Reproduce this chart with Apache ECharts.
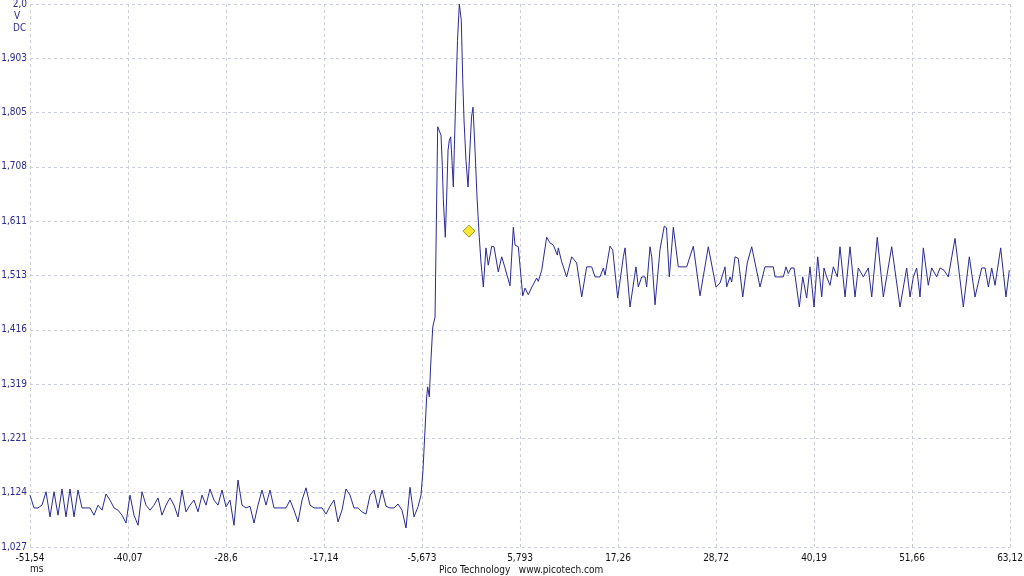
<!DOCTYPE html>
<html>
<head>
<meta charset="utf-8">
<script src="https://cdn.jsdelivr.net/npm/echarts@6/dist/echarts.min.js"></script>
<style>
html,body{margin:0;padding:0;background:#fff;}
#chart{width:1024px;height:576px;}
</style>
</head>
<body>
<div id="chart"></div>
<script>
// Axis ticks (ms and V) as printed on the reference
const X_MIN = -51.54, X_MAX = 63.12, X_STEP = 11.466;
const Y_MIN = 1.027, Y_MAX = 2.0, Y_STEP = 0.0973;
const xTickLabels = ['-51,54','-40,07','-28,6','-17,14','-5,673','5,793','17,26','28,72','40,19','51,66','63,12'];
const yTickLabels = ['1,027','1,124','1,221','1,319','1,416','1,513','1,611','1,708','1,805','1,903','2,0'];

// Pre-trigger baseline: uniformly sampled from LEFT_START every SAMPLE_MS
const LEFT_START = -51.54;
const SAMPLE_MS = 0.468;
const leftVolts = [
1.120,1.097,1.097,1.102,1.126,1.081,1.126,1.084,1.131,1.081,
1.131,1.081,1.129,1.097,1.097,1.097,1.084,1.102,1.093,1.122,
1.111,1.097,1.093,1.084,1.070,1.120,1.084,1.066,1.126,1.102,
1.093,1.102,1.115,1.084,1.102,1.115,1.102,1.081,1.129,1.090,
1.102,1.111,1.090,1.120,1.102,1.131,1.111,1.102,1.129,1.099,
1.111,1.066,1.147,1.102,1.097,1.100,1.070,1.102,1.129,1.102,
1.129,1.097,1.097,1.097,1.097,1.111,1.093,1.072,1.111,1.133,
1.102,1.097,1.097,1.097,1.086,1.100,1.111,1.072,1.093,1.131,
1.120,1.097,1.097,1.090,1.086,1.120,1.129,1.097,1.129,1.100,
1.097,1.097,1.104,1.093,1.061,1.134,1.081,1.099
];

// Rising edge, spike and settled level: explicit (ms, V) vertices
const edgeTimes = [
-5.79,-5.56,-5.13,-5.01,-4.82,-4.66,-4.42,-4.15,-3.84,-3.61,
-3.45,-3.30,-3.18,-2.95,-2.79,-2.63,-2.48,-2.32,-2.17,-2.01,
-1.90,-1.70,-1.52,-1.31,-1.15,-1.08,-0.91,-0.76,-0.53,-0.29,
-0.06,0.12,0.29,0.53,0.76,0.99,1.23,1.50,1.81,2.08,
2.48,2.75,3.25,3.65,4.04,4.62,5.01,5.21,5.59,6.11,
6.38,6.76,7.19,7.74,7.93,8.33,8.91,9.30,9.69,10.16,
10.27,10.67,11.25,11.84,12.42,13.01,13.59,14.18,14.57,15.15,
15.54,15.74,16.32,16.64,17.22,17.88,18.08,18.66,19.36,19.63,
20.03,20.42,20.61,21.00,21.20,21.59,22.17,22.67,22.93,23.26,
23.73,24.31,25.29,26.07,26.85,27.82,28.72,29.19,29.78,29.97,
30.36,30.56,30.95,31.33,31.85,32.38,32.90,33.87,34.45,35.43,
35.63,36.60,36.91,37.18,37.50,37.85,38.47,38.87,39.33,39.72,
40.19,40.62,41.09,41.36,41.67,42.06,42.45,42.65,42.92,43.23,
43.82,44.40,44.99,45.37,45.96,46.54,46.94,47.59,48.30,49.28,
50.25,51.03,51.42,51.81,52.20,52.59,52.98,53.56,53.96,54.54,
54.93,55.40,55.90,56.69,57.66,58.36,59.03,59.81,60.20,60.59,
60.98,61.37,62.03,62.65,63.04
];
const edgeVolts = [
1.120,1.165,1.296,1.314,1.296,1.353,1.421,1.439,1.780,1.780,
1.765,1.711,1.649,1.582,1.654,1.738,1.756,1.762,1.720,1.672,
1.738,1.846,1.935,2.000,2.000,1.971,1.864,1.792,1.720,1.672,
1.672,1.798,1.815,1.738,1.654,1.590,1.536,1.493,1.563,1.532,
1.566,1.565,1.520,1.547,1.527,1.495,1.600,1.568,1.565,1.477,
1.491,1.479,1.493,1.509,1.503,1.523,1.582,1.572,1.568,1.550,
1.563,1.538,1.511,1.547,1.536,1.475,1.529,1.529,1.511,1.511,
1.527,1.514,1.566,1.559,1.473,1.547,1.563,1.457,1.529,1.493,
1.511,1.511,1.493,1.565,1.547,1.461,1.560,1.602,1.599,1.511,
1.600,1.529,1.529,1.566,1.477,1.565,1.493,1.500,1.529,1.493,
1.511,1.502,1.547,1.544,1.475,1.536,1.565,1.493,1.529,1.529,
1.511,1.511,1.529,1.517,1.527,1.527,1.457,1.511,1.473,1.529,
1.457,1.547,1.475,1.527,1.511,1.496,1.529,1.531,1.511,1.565,
1.475,1.565,1.475,1.527,1.511,1.527,1.475,1.582,1.475,1.565,
1.457,1.527,1.475,1.511,1.527,1.475,1.563,1.496,1.527,1.511,
1.527,1.523,1.511,1.580,1.457,1.547,1.475,1.527,1.527,1.493,
1.527,1.496,1.563,1.475,1.523
];

// Trigger marker
const triggerPoint = [-0.18, 1.593];

const traceData = [];
leftVolts.forEach((v, i) => traceData.push([LEFT_START + i * SAMPLE_MS, v]));
edgeTimes.forEach((t, i) => traceData.push([t, edgeVolts[i]]));

const NAVY = '#2a2a96';
const GRID = '#c9ced9';
const FONT = '"DejaVu Sans Condensed", "Liberation Sans", sans-serif';

const chart = echarts.init(document.getElementById('chart'), null, {renderer: 'canvas'});
chart.setOption({
  animation: false,
  backgroundColor: '#ffffff',
  grid: {left: 30, right: 14, top: 4, bottom: 29, containLabel: false, outerBoundsMode: 'none'},
  xAxis: {
    type: 'value', min: X_MIN, max: X_MAX, interval: X_STEP,
    axisLine: {show: false}, axisTick: {show: false},
    splitLine: {show: true, lineStyle: {color: GRID, type: [3, 3], width: 1}},
    axisLabel: {
      color: '#111', fontFamily: FONT, fontSize: 10, margin: 6,
      formatter: v => xTickLabels[Math.round((v - X_MIN) / X_STEP)] || ''
    }
  },
  yAxis: {
    type: 'value', min: Y_MIN, max: Y_MAX, interval: Y_STEP,
    axisLine: {show: false}, axisTick: {show: false},
    splitLine: {show: true, lineStyle: {color: GRID, type: [3, 3], width: 1}},
    axisLabel: {
      color: NAVY, fontFamily: FONT, fontSize: 10, margin: 3,
      formatter: v => yTickLabels[Math.round((v - Y_MIN) / Y_STEP)] || ''
    }
  },
  graphic: [
    {type: 'text', left: 14, top: 11, style: {text: 'V', fill: NAVY, font: '10px ' + FONT}},
    {type: 'text', left: 13, top: 23, style: {text: 'DC', fill: NAVY, font: '10px ' + FONT}},
    {type: 'text', left: 30, top: 564, style: {text: 'ms', fill: '#111', font: '10px ' + FONT}},
    {type: 'text', left: 439, top: 565, style: {text: 'Pico Technology   www.picotech.com', fill: '#111', font: '10px ' + FONT}}
  ],
  series: [
    {
      type: 'line', data: traceData, showSymbol: false, symbol: 'none',
      lineStyle: {color: NAVY, width: 1}, z: 2
    },
    {
      type: 'scatter', data: [triggerPoint], symbol: 'diamond', symbolSize: [12, 12],
      itemStyle: {color: '#f5e400', borderColor: '#8c7d00', borderWidth: 1}, z: 3
    }
  ]
});
</script>
</body>
</html>
